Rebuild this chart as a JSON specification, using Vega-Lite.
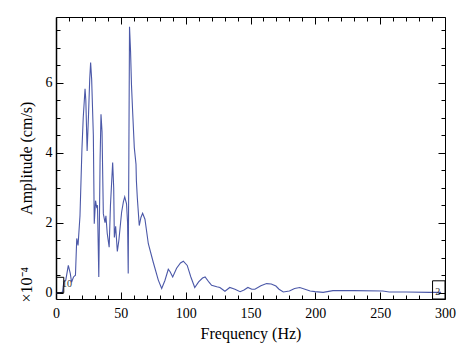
{
  "$schema": "https://vega.github.io/schema/vega-lite/v6.json",
  "width": 389,
  "height": 282,
  "autosize": "none",
  "padding": {"left": 56, "top": 17, "right": 29, "bottom": 62},
  "background": "white",
  "config": {
    "view": {"stroke": null},
    "axis": {
      "grid": false,
      "domainColor": "black",
      "domainWidth": 1,
      "tickColor": "black",
      "tickWidth": 1,
      "labelColor": "black",
      "labelFont": "Liberation Serif",
      "labelFontSize": 14,
      "titleFont": "Liberation Serif",
      "titleFontSize": 16,
      "titleFontWeight": "normal",
      "titleColor": "black"
    }
  },
  "datasets": {
    "spec": [
      {"f": 0, "a": 0}, {"f": 3, "a": 0}, {"f": 5, "a": 0.02}, {"f": 6, "a": 0.3}, {"f": 7.5, "a": 0.35},
      {"f": 9.5, "a": 0.78}, {"f": 11, "a": 0.55}, {"f": 12, "a": 0.3}, {"f": 13.5, "a": 0.45}, {"f": 15, "a": 0.5},
      {"f": 16, "a": 1.55}, {"f": 17, "a": 1.35}, {"f": 18.5, "a": 2.2}, {"f": 20, "a": 4.1}, {"f": 21, "a": 5.0},
      {"f": 22.4, "a": 5.83}, {"f": 23, "a": 5.5}, {"f": 24, "a": 4.05}, {"f": 25, "a": 5.0}, {"f": 26, "a": 6.1},
      {"f": 26.7, "a": 6.58}, {"f": 27.5, "a": 6.1}, {"f": 28.8, "a": 4.5}, {"f": 29.5, "a": 1.97}, {"f": 30.5, "a": 2.63},
      {"f": 31.3, "a": 2.45}, {"f": 32, "a": 2.5}, {"f": 33, "a": 0.45}, {"f": 34, "a": 3.8}, {"f": 34.7, "a": 5.1},
      {"f": 35.5, "a": 4.6}, {"f": 36.5, "a": 2.26}, {"f": 37.8, "a": 2.0}, {"f": 38.5, "a": 2.2}, {"f": 39.5, "a": 1.7},
      {"f": 41, "a": 1.3}, {"f": 42, "a": 2.5}, {"f": 43.7, "a": 3.72}, {"f": 44.5, "a": 3.0}, {"f": 45, "a": 1.58},
      {"f": 46, "a": 1.9}, {"f": 47.3, "a": 1.18}, {"f": 48.5, "a": 1.5}, {"f": 50.6, "a": 2.3}, {"f": 52, "a": 2.6},
      {"f": 53, "a": 2.74}, {"f": 54.4, "a": 2.54}, {"f": 55.2, "a": 2.0}, {"f": 55.7, "a": 0.55}, {"f": 56.2, "a": 4.0},
      {"f": 56.7, "a": 7.6}, {"f": 57.5, "a": 6.9}, {"f": 58.2, "a": 5.95}, {"f": 59.2, "a": 5.1}, {"f": 60.4, "a": 4.14},
      {"f": 61.7, "a": 3.67}, {"f": 62, "a": 3.2}, {"f": 62.7, "a": 2.72}, {"f": 64.2, "a": 1.92}, {"f": 65.5, "a": 2.15},
      {"f": 66.8, "a": 2.27}, {"f": 68.6, "a": 2.1}, {"f": 71.2, "a": 1.4}, {"f": 75, "a": 0.87}, {"f": 78.9, "a": 0.36},
      {"f": 81.5, "a": 0.12}, {"f": 84, "a": 0.35}, {"f": 86.6, "a": 0.67}, {"f": 88, "a": 0.6}, {"f": 90, "a": 0.45},
      {"f": 93, "a": 0.7}, {"f": 96, "a": 0.85}, {"f": 98.2, "a": 0.9}, {"f": 101.2, "a": 0.78}, {"f": 104, "a": 0.45},
      {"f": 107, "a": 0.15}, {"f": 110, "a": 0.31}, {"f": 113, "a": 0.42}, {"f": 115, "a": 0.45}, {"f": 118, "a": 0.3},
      {"f": 120, "a": 0.21}, {"f": 124, "a": 0.17}, {"f": 126.4, "a": 0.15}, {"f": 130.3, "a": 0.04}, {"f": 134, "a": 0.15},
      {"f": 138, "a": 0.1}, {"f": 142, "a": 0.03}, {"f": 145, "a": 0.08}, {"f": 148, "a": 0.15}, {"f": 151, "a": 0.1},
      {"f": 153.4, "a": 0.1}, {"f": 158, "a": 0.2}, {"f": 162.4, "a": 0.26}, {"f": 166, "a": 0.25}, {"f": 169.6, "a": 0.19},
      {"f": 172, "a": 0.1}, {"f": 175.3, "a": 0.02}, {"f": 180, "a": 0.05}, {"f": 184, "a": 0.12}, {"f": 188, "a": 0.15},
      {"f": 192, "a": 0.1}, {"f": 196, "a": 0.05}, {"f": 199.7, "a": 0.03}, {"f": 206, "a": 0.01}, {"f": 213.6, "a": 0.06},
      {"f": 230, "a": 0.06}, {"f": 252, "a": 0.05}, {"f": 257, "a": 0.02}, {"f": 270, "a": 0.02}, {"f": 288, "a": 0.01},
      {"f": 297, "a": 0.01}
    ],
    "boxes": [
      {"x1": 290.4, "x2": 300, "y1": -0.18, "y2": 0.34},
      {"x1": 0, "x2": 6, "y1": 0, "y2": 0.44}
    ],
    "notes": [
      {"x": 294.5, "y": 0.03, "t": "2"},
      {"x": 8.5, "y": 0.25, "t": "10"}
    ]
  },
  "layer": [
    {
      "data": {"name": "spec"},
      "mark": {"type": "line", "color": "#4b58a8", "strokeWidth": 1.1, "clip": true},
      "encoding": {
        "x": {
          "field": "f", "type": "quantitative",
          "scale": {"domain": [0, 300], "nice": false, "zero": false},
          "axis": {
            "orient": "bottom",
            "title": "Frequency (Hz)",
            "values": [0,10,20,30,40,50,60,70,80,90,100,110,120,130,140,150,160,170,180,190,200,210,220,230,240,250,260,270,280,290,300],
            "labelExpr": "datum.value % 50 === 0 ? format(datum.value, 'd') : ''",
            "tickSize": {"condition": {"test": "datum.value % 50 === 0", "value": -7}, "value": -4},
            "labelPadding": 14,
            "labelFlush": false,
            "labelOverlap": false,
            "titlePadding": 2
          }
        },
        "y": {
          "field": "a", "type": "quantitative",
          "scale": {"domain": [-0.18, 7.88], "nice": false, "zero": false},
          "axis": {
            "orient": "left",
            "domainWidth": 1.5,
            "title": "×10⁻⁴\u00a0\u00a0\u00a0\u00a0\u00a0\u00a0\u00a0\u00a0\u00a0\u00a0\u00a0\u00a0\u00a0Amplitude (cm/s)",
            "titleAngle": 270,
            "titleAlign": "left",
            "titleBaseline": "middle",
            "titleX": -30,
            "titleY": 285,
            "values": [0,0.5,1,1.5,2,2.5,3,3.5,4,4.5,5,5.5,6,6.5,7,7.5],
            "labelExpr": "datum.value % 2 === 0 ? format(datum.value, 'd') : ''",
            "tickSize": {"condition": {"test": "datum.value % 2 === 0", "value": -7}, "value": -4},
            "labelPadding": 11,
            "labelFlush": false,
            "labelOverlap": false
          }
        }
      }
    },
    {
      "data": {"name": "spec"},
      "mark": {"type": "line", "opacity": 0},
      "encoding": {
        "x": {
          "field": "f", "type": "quantitative",
          "axis": {
            "orient": "top", "title": null, "labels": false,
            "values": [0,10,20,30,40,50,60,70,80,90,100,110,120,130,140,150,160,170,180,190,200,210,220,230,240,250,260,270,280,290,300],
            "tickSize": {"condition": {"test": "datum.value % 50 === 0", "value": -7}, "value": -4}
          }
        },
        "y": {
          "field": "a", "type": "quantitative",
          "axis": {
            "orient": "right", "title": null, "labels": false,
            "values": [0,0.5,1,1.5,2,2.5,3,3.5,4,4.5,5,5.5,6,6.5,7,7.5],
            "tickSize": {"condition": {"test": "datum.value % 2 === 0", "value": -7}, "value": -4}
          }
        }
      }
    },
    {
      "data": {"name": "boxes"},
      "mark": {"type": "rect", "fill": null, "stroke": "black", "strokeWidth": 1, "clip": true},
      "encoding": {
        "x": {"field": "x1", "type": "quantitative", "axis": null},
        "x2": {"field": "x2"},
        "y": {"field": "y1", "type": "quantitative", "axis": null},
        "y2": {"field": "y2"}
      }
    },
    {
      "data": {"name": "notes"},
      "mark": {"type": "text", "font": "Liberation Serif", "fontSize": 10, "color": "#333333"},
      "encoding": {
        "x": {"field": "x", "type": "quantitative", "axis": null},
        "y": {"field": "y", "type": "quantitative", "axis": null},
        "text": {"field": "t"}
      }
    }
  ],
  "resolve": {"axis": {"x": "independent", "y": "independent"}}
}
